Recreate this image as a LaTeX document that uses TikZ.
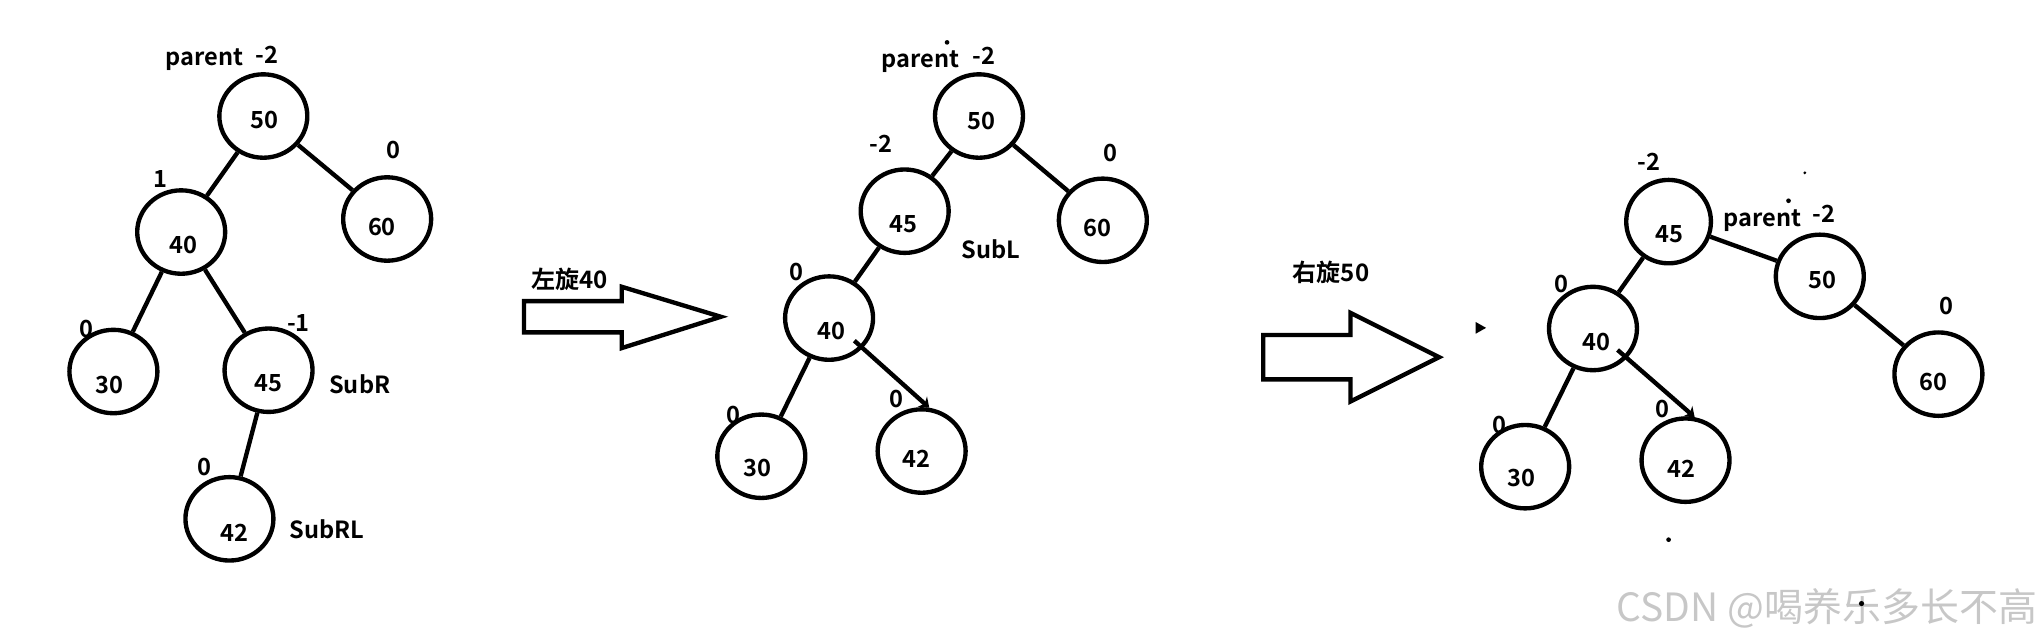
\documentclass[tikz,border=0pt]{standalone}
\usepackage{fontspec}
\setmainfont{Noto Sans CJK SC}[BoldFont={* Bold}]
\usetikzlibrary{calc,shapes.geometric,arrows.meta}
\begin{document}
\begin{tikzpicture}[x=0.02cm,y=-0.02cm,
  nd/.style={draw,ellipse,line width=1.9pt,minimum width=1.35cm,minimum height=1.28cm,inner sep=0pt},
  txt/.style={font=\bfseries\fontsize{10.3}{12}\selectfont,inner sep=0pt},
  cjk/.style={font=\bfseries\fontsize{10.5}{12}\selectfont,inner sep=0pt},
  edge/.style={line width=1.9pt},
  tip/.style={-{Stealth[length=4pt,width=6pt]}},
  blk/.style={draw,line width=1.9pt,line join=miter},
  wm/.style={font=\fontsize{17}{20}\selectfont,text=black!22,inner sep=0pt}]
\useasboundingbox (0,0) rectangle (1568,494);
% ---------------- Tree 1 ----------------
\node[nd,label={[txt,shift={(1,3)}]center:50}] (a50) at (202,89) {};
\node[nd,label={[txt,shift={(-4,6)}]center:60}] (a60) at (297,168) {};
\node[nd,label={[txt,shift={(2,10)}]center:40}] (a40) at (139,178) {};
\node[nd,label={[txt,shift={(-3,10)}]center:30}] (a30) at (87,285) {};
\node[nd,label={[txt,shift={(0,10)}]center:45}] (a45) at (206,284) {};
\node[nd,label={[txt,shift={(4,11)}]center:42}] (a42) at (176,398) {};
\draw[edge] (a50) -- (a40);
\draw[edge] (a50) -- (a60);
\draw[edge] (a40) -- (a30);
\draw[edge] (a40) -- (a45);
\draw[edge] (a45) -- (a42);
\node[txt] (a1) at (157,46) {parent};
\node[txt] (a2) at (205,42) {-2};
\node[txt] (a3) at (302,115) {0};
\node[txt] (a4) at (123,137) {1};
\node[txt] (a5) at (66,252) {0};
\node[txt] (a6) at (229,248) {-1};
\node[txt] (a7) at (276,295) {SubR};
\node[txt] (a8) at (157,358) {0};
\node[txt] (a9) at (251,406) {SubRL};
% ---------------- Arrow 1 ----------------
\draw[blk] (402,231) -- (477,231) -- (477,220) -- (553,243) -- (477,267) -- (477,255) -- (402,255) -- cycle;
\node[cjk] (r1) at (437,214) {左旋40};
% ---------------- Tree 2 ----------------
\node[nd,label={[txt,shift={(2,4)}]center:50}] (b50) at (751,89) {};
\node[nd,label={[txt,shift={(-4,6)}]center:60}] (b60) at (846,169) {};
\node[nd,label={[txt,shift={(-1,10)}]center:45}] (b45) at (694,162) {};
\node[nd,label={[txt,shift={(2,10)}]center:40}] (b40) at (636,244) {};
\node[nd,label={[txt,shift={(-3,9)}]center:30}] (b30) at (584,350) {};
\node[nd,label={[txt,shift={(-4,6)}]center:42}] (b42) at (707,346) {};
\draw[edge] (b50) -- (b45);
\draw[edge] (b50) -- (b60);
\draw[edge] (b45) -- (b40);
\draw[edge] (b40) -- (b30);
\draw[edge,tip] ($(b40.center)!0.52cm!(b42.80)$) -- (b42.80);
\node[txt] (b1) at (706,47) {parent};
\node[txt] (b2) at (755,43) {-2};
\node[txt] (b3) at (676,110) {-2};
\node[txt] (b4) at (852,117) {0};
\node[txt] (b5) at (760,191) {SubL};
\node[txt] (b6) at (611,209) {0};
\node[txt] (b7) at (563,318) {0};
\node[txt] (b8) at (688,306) {0};
\fill (726.5,32.5) circle (1.8);
% ---------------- Arrow 2 ----------------
\draw[blk] (969,257) -- (1036,257) -- (1036,240) -- (1104,274) -- (1036,308) -- (1036,291) -- (969,291) -- cycle;
\node[cjk] (r2) at (1021,209) {右旋50};
\fill (1132,247) -- (1140,251.5) -- (1132,256) -- cycle;
% ---------------- Tree 3 ----------------
\node[nd,minimum width=1.3cm,label={[txt,shift={(1,10)}]center:45}] (c45) at (1280,170) {};
\node[nd,label={[txt,shift={(2,3)}]center:50}] (c50) at (1396,212) {};
\node[nd,label={[txt,shift={(-4,6)}]center:60}] (c60) at (1487,287) {};
\node[nd,label={[txt,shift={(3,10)}]center:40}] (c40) at (1222,252) {};
\node[nd,label={[txt,shift={(-3,9)}]center:30}] (c30) at (1170,358) {};
\node[nd,label={[txt,shift={(-3,7)}]center:42}] (c42) at (1293,353) {};
\draw[edge] (c45) -- (c50);
\draw[edge] (c45) -- (c40);
\draw[edge] (c50) -- (c60);
\draw[edge] (c40) -- (c30);
\draw[edge,tip] ($(c40.center)!0.5cm!(c42.78)$) -- (c42.78);
\node[txt] (c1) at (1265,124) {-2};
\node[txt] (c2) at (1352,169) {parent};
\node[txt] (c3) at (1399,164) {-2};
\node[txt] (c4) at (1493,235) {0};
\node[txt] (c5) at (1198,218) {0};
\node[txt] (c6) at (1150,326) {0};
\node[txt] (c7) at (1275,314) {0};
\fill (1384.5,132.6) circle (1.2);
\fill (1372,154) circle (1.8);
\fill (1280,414) circle (1.8);
% ---------------- Watermark ----------------
\node[wm,anchor=west] (w) at (1240,467) {CSDN @喝养乐多长不高};
\fill (1428,463) circle (2);
\end{tikzpicture}
\end{document}
